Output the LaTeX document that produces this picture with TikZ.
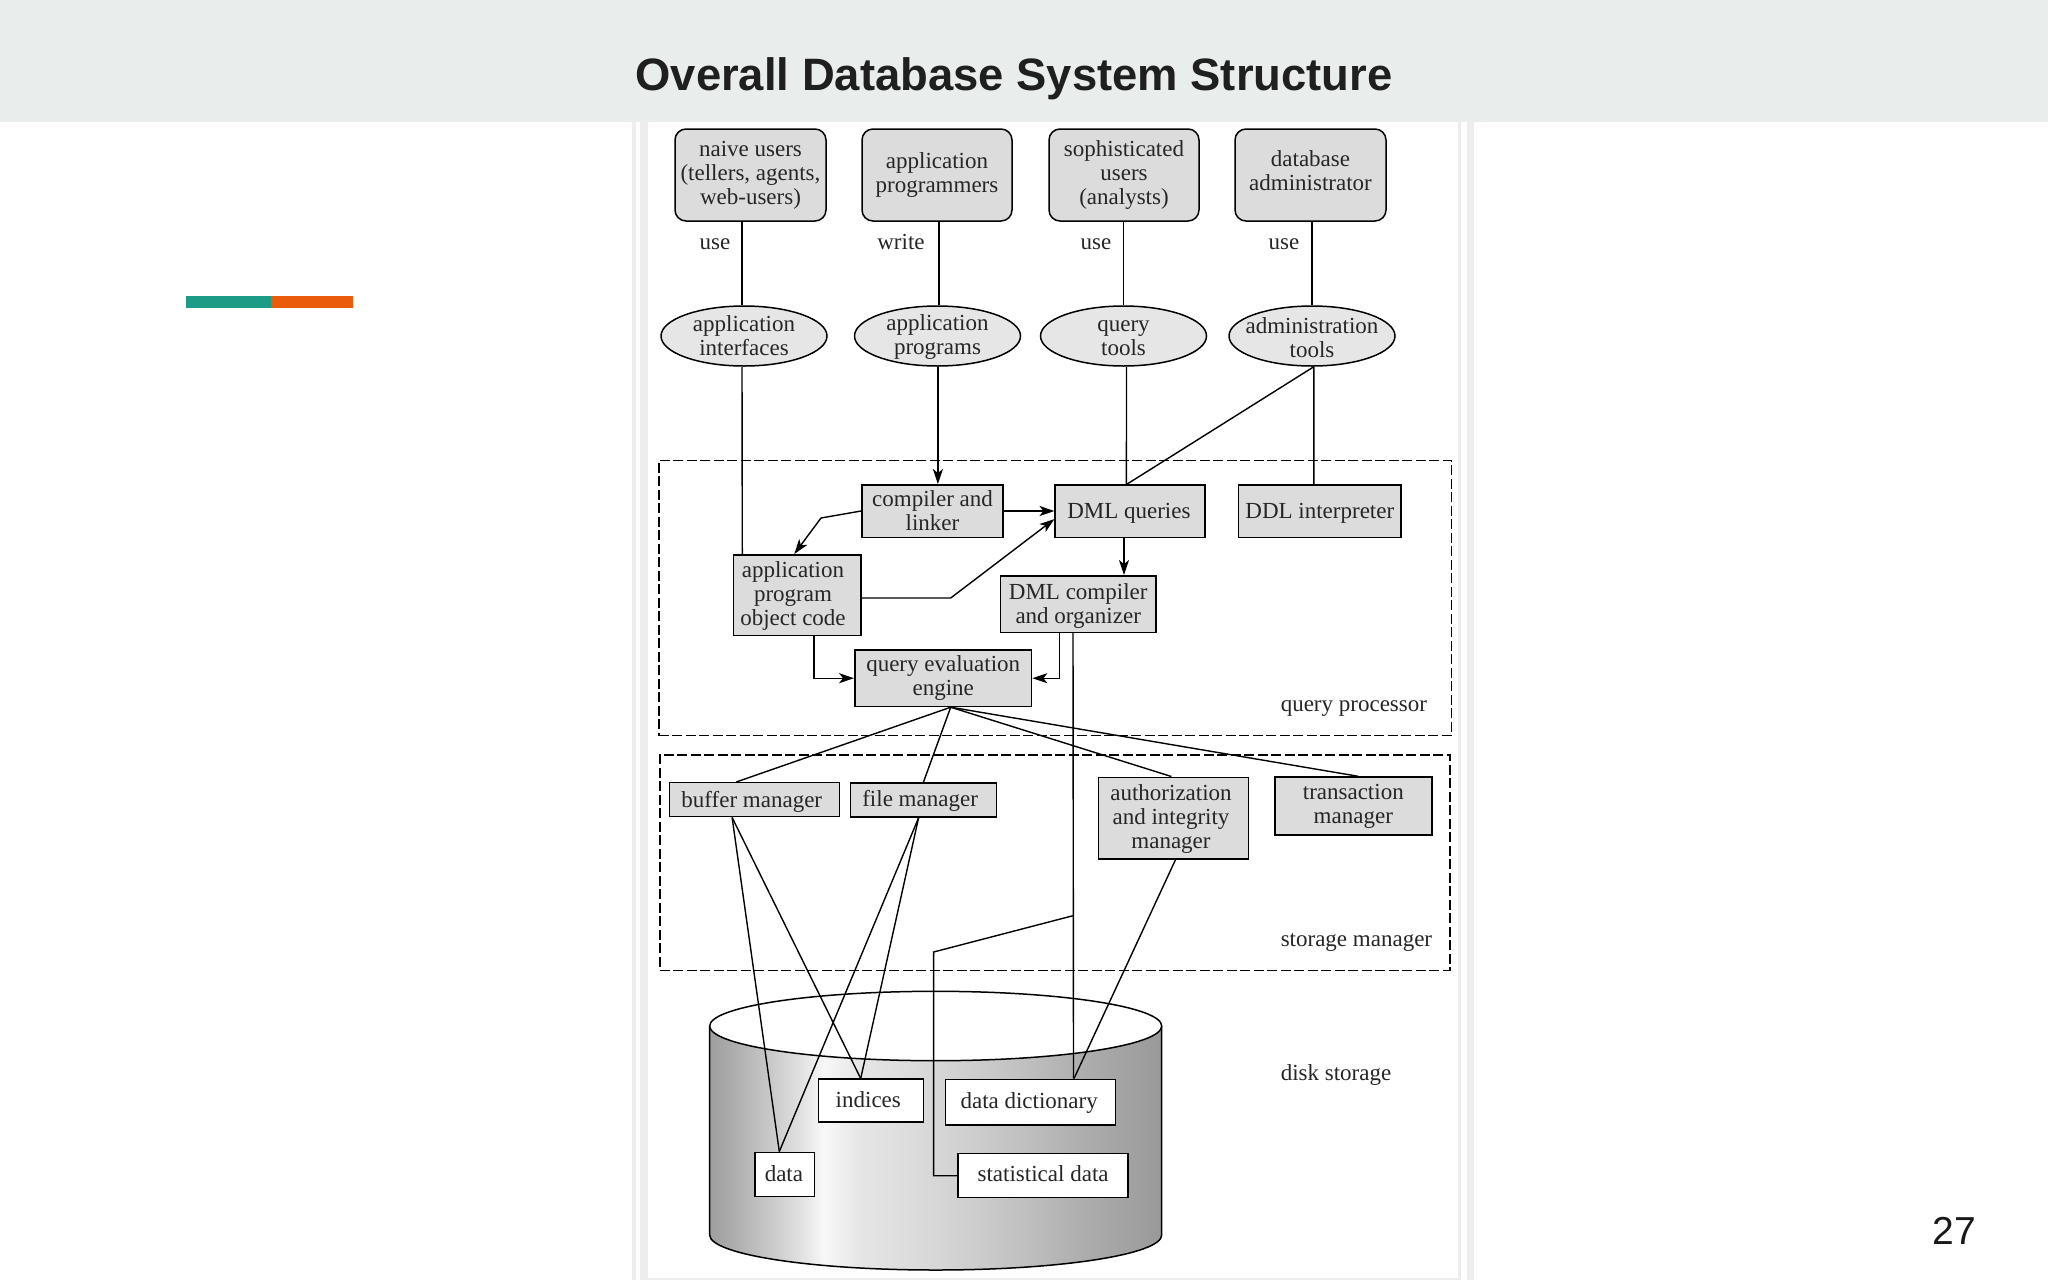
\documentclass[tikz,border=0pt]{standalone}
\usepackage{fontspec}
\setmainfont{Liberation Serif}
\newfontfamily\sansfam{Liberation Sans}
\usetikzlibrary{shapes.geometric,arrows.meta,calc}

\definecolor{barbg}{HTML}{E9EEEC}
\definecolor{stripgray}{HTML}{EDEDED}
\definecolor{boxgray}{HTML}{DCDCDC}
\definecolor{ellgray}{HTML}{E6E6E6}
\definecolor{inkgray}{HTML}{262626}
\definecolor{tealbar}{HTML}{1C9C86}
\definecolor{orangebar}{HTML}{EA5B0C}

% moves a label inside its box: dx, dy, lines
\newcommand{\nudge}[3]{\kern#1\raisebox{#2}[\height][\depth]{\begin{tabular}{@{}c@{}}#3\end{tabular}}\kern-#1}

% cylinder wall, lightest left of the middle
\pgfdeclarehorizontalshading{cylwall}{100bp}{
  color(0bp)=(black!38);
  color(25bp)=(black!38);
  color(27.7bp)=(black!32);
  color(31.4bp)=(black!22);
  color(35bp)=(black!12);
  color(37.6bp)=(black!3);
  color(41.7bp)=(black!10);
  color(46.1bp)=(black!13);
  color(51.6bp)=(black!17);
  color(59bp)=(black!24);
  color(66.3bp)=(black!32);
  color(75bp)=(black!40);
  color(100bp)=(black!40)}

\begin{document}
\begin{tikzpicture}[
    x=1pt, y=-1pt,
    line width=1.5pt,
    txt/.style={font=\fontsize{23}{24}\selectfont, text=inkgray, align=center, inner sep=0pt},
    actor/.style={txt, draw=black, fill=boxgray, rounded corners=11pt, minimum width=#1, minimum height=92pt},
    tool/.style={txt, draw=black, fill=ellgray, ellipse, inner xsep=-20pt, inner ysep=-8pt, minimum width=166pt, minimum height=60pt},
    comp/.style={txt, draw=black, fill=boxgray, minimum width=#1},
    store/.style={txt, draw=black, fill=white, minimum width=#1},
    region/.style={draw=black, dash pattern=on 10pt off 3.5pt, minimum width=#1},
    tag/.style={txt, anchor=west},
    verb/.style={txt, anchor=base},
    conn/.style={draw=black, line width=1.4pt},
    arr/.style={conn, -{Stealth[length=15pt,width=10pt,inset=4pt]}}
]
\useasboundingbox (0,0) rectangle (2048,1280);

% slide furniture
\fill[white] (0,0) rectangle (2048,1280);
\fill[barbg] (0,0) rectangle (2048,121.5);
\fill[tealbar] (185.7,296) rectangle (270.5,307.7);
\fill[orangebar] (270.5,296) rectangle (353,307.7);
\fill[stripgray] (632,121.5) rectangle (636,1280);
\fill[stripgray] (640,121.5) rectangle (648,1280);
\fill[stripgray] (1458,121.5) rectangle (1461,1280);
\fill[stripgray] (1467,121.5) rectangle (1474,1280);
\fill[stripgray] (648,1278) rectangle (1458,1280);

\node[font=\sansfam\bfseries\fontsize{45.4}{50}\selectfont, text=black!88, inner sep=0pt] (title) at (1014,79) {Overall Database System Structure};
\node[font=\sansfam\fontsize{39}{44}\selectfont, text=black!90, inner sep=0pt] (pagenum) at (1954,1231) {27};

% disk cylinder
\path[shade, shading=cylwall] (709.7,1026) -- (709.7,1235) arc[start angle=180, end angle=0, x radius=226, y radius=35] -- (1161.7,1026) -- cycle;
\draw (709.7,1026) -- (709.7,1235) arc[start angle=180, end angle=0, x radius=226, y radius=35] -- (1161.7,1026);
\draw[fill=white] (935.7,1026) ellipse[x radius=226, y radius=34.7];

% regions
\node[region=792.8pt, minimum height=275pt] (qp) at (1055.2,598) {};
\node[region=790.2pt, minimum height=215.5pt] (sm) at (1054.9,862.5) {};

% users
\node[actor=151pt] (naive) at (750.5,175) {naive users\\(tellers, agents,\\web-users)};
\node[actor=150pt] (appr) at (937,175) {application\\programmers};
\node[actor=150pt] (soph) at (1124,175) {sophisticated\\users\\(analysts)};
\node[actor=151pt] (dba) at (1310.5,175) {\nudge{0pt}{1.3pt}{database\\administrator}};

% tools
\node[tool] (ifc) at (744,336) {application\\interfaces};
\node[tool] (prog) at (937.5,336) {\nudge{0pt}{-2pt}{application\\programs}};
\node[tool] (qt) at (1123.5,336) {\nudge{0pt}{-2.3pt}{query\\tools}};
\node[tool] (adm) at (1312,336) {\nudge{0pt}{-5pt}{administration\\tools}};

% query processor
\node[comp=141.4pt, minimum height=52.5pt] (cl) at (932.5,511) {compiler and\\linker};
\node[comp=150pt, minimum height=52.5pt] (dml) at (1130.2,511) {\nudge{-1.3pt}{-2.6pt}{DML queries}};
\node[comp=162.8pt, minimum height=52.5pt] (ddl) at (1319.8,511) {\nudge{0pt}{-2.6pt}{DDL interpreter}};
\node[comp=127.5pt, minimum height=80.5pt] (obj) at (797,595) {\nudge{-4pt}{-1.3pt}{application\\program\\object code}};
\node[comp=155.4pt, minimum height=56.5pt] (dmlc) at (1078.2,604) {\nudge{0pt}{-3pt}{DML compiler\\and organizer}};
\node[comp=176.8pt, minimum height=56.5pt] (qe) at (943.2,678.2) {query evaluation\\engine};

% storage manager
\node[comp=169.8pt, minimum height=34pt] (buf) at (754.4,799.7) {\nudge{-2.6pt}{-2.6pt}{buffer manager}};
\node[comp=145.8pt, minimum height=34pt] (file) at (923.4,800) {\nudge{-3.3pt}{-1.3pt}{file manager}};
\node[comp=150pt, minimum height=81.5pt] (auth) at (1173.6,818) {\nudge{-2.6pt}{-2pt}{authorization\\and integrity\\manager}};
\node[comp=157pt, minimum height=58pt] (trans) at (1353.3,806) {transaction\\manager};

% disk contents
\node[store=105pt, minimum height=43pt] (idx) at (870.9,1100.7) {\nudge{-2.6pt}{-1.6pt}{indices}};
\node[store=170.3pt, minimum height=45.5pt] (dd) at (1030.5,1102) {\nudge{-1.3pt}{-1.3pt}{data dictionary}};
\node[store=59.4pt, minimum height=44pt] (data) at (784.9,1174.3) {\nudge{-1pt}{-2.6pt}{data}};
\node[store=169.8pt, minimum height=44pt] (stat) at (1043.1,1175.7) {\nudge{0pt}{-1pt}{statistical data}};

% verb and region labels
\node[verb] (l1) at (715,249.5) {use};
\node[verb] (l2) at (901,249.5) {write};
\node[verb] (l3) at (1096,249.5) {use};
\node[verb] (l4) at (1284,249.5) {use};
\node[tag] (lqp) at (1280,708) {query processor};
\node[tag] (lsm) at (1280,942.5) {storage manager};
\node[tag] (lds) at (1280,1075) {disk storage};

% bends
\coordinate (b1) at (821,518);
\coordinate (b2) at (950.7,598);
\coordinate (j1) at (1073,915.7);
\coordinate (j2) at (933.6,952);

% users to tools
\draw[conn] ([xshift=-8.5pt]naive.south) -- ([xshift=-2pt]ifc.north);
\draw[conn] ([xshift=2pt]appr.south) -- ([xshift=1.5pt]prog.north);
\draw[conn] ([xshift=-0.5pt]soph.south) -- (qt.north);
\draw[conn] ([xshift=1.5pt]dba.south) -- (adm.north);

% tools to query processor
\draw[conn] ([xshift=-2pt]ifc.south) -- ([xshift=-54.7pt]obj.north);
\draw[arr] ([xshift=0.4pt]prog.south) -- ([xshift=5.4pt]cl.north);
\draw[conn] ([xshift=3pt]qt.south) -- ([xshift=-3.8pt]dml.north);
\draw[conn] ([xshift=1.8pt]adm.south) -- ([xshift=-3pt]dml.north);
\draw[conn] ([xshift=1.8pt]adm.south) -- ([xshift=-5.9pt]ddl.north);

% inside query processor
\draw[arr] (cl.east) -- (dml.west);
\draw[arr] (cl.west) -- (b1) -- ([xshift=-2.7pt]obj.north);
\draw[arr] ([yshift=-3pt]obj.east) -- (b2) -- ([yshift=-8pt]dml.west);
\draw[arr] ([xshift=-6.2pt]dml.south) -- ([xshift=45.8pt]dmlc.north);
\draw[arr] ([xshift=17pt]obj.south) |- (qe.west);
\draw[arr] ([xshift=-18.8pt]dmlc.south) |- (qe.east);
\draw[conn] ([xshift=-5.2pt]dmlc.south) -- ([xshift=43pt]dd.north);
\draw[conn] (j1) -- (j2) |- (stat.west);

% engine to storage manager
\draw[conn] ([xshift=7.5pt]qe.south) -- ([xshift=-18pt]buf.north);
\draw[conn] ([xshift=7.5pt]qe.south) -- (file.north);
\draw[conn] ([xshift=7.5pt]qe.south) -- ([xshift=-2.2pt]auth.north);
\draw[conn] ([xshift=7.5pt]qe.south) -- ([xshift=4.7pt]trans.north);

% storage manager to disk
\draw[conn] ([xshift=-22.3pt]buf.south) -- ([xshift=-5.6pt]data.north);
\draw[conn] ([xshift=-22.3pt]buf.south) -- ([xshift=-10.2pt]idx.north);
\draw[conn] ([xshift=-4.8pt]file.south) -- ([xshift=-5.6pt]data.north);
\draw[conn] ([xshift=-4.8pt]file.south) -- ([xshift=-10.2pt]idx.north);
\draw[conn] ([xshift=2pt]auth.south) -- ([xshift=43.5pt]dd.north);

\end{tikzpicture}
\end{document}
